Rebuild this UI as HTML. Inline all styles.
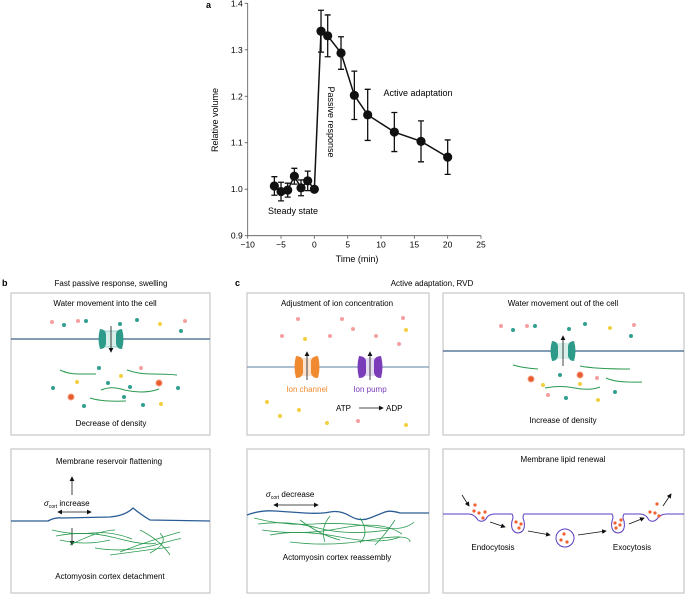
<!DOCTYPE html>
<html><head><meta charset="utf-8">
<style>
html,body{margin:0;padding:0;background:#fff;}
svg{display:block;font-family:"Liberation Sans",sans-serif;}
</style></head>
<body>
<svg id="fig" width="685" height="595" viewBox="0 0 685 595" xmlns="http://www.w3.org/2000/svg">
<!-- Panel a -->
<g id="chart">
  <text x="206" y="8" font-size="9" font-weight="bold">a</text>
  <text transform="translate(218,120) rotate(-90)" font-size="9" text-anchor="middle">Relative volume</text>
  <text x="357" y="262" font-size="9" text-anchor="middle">Time (min)</text>
  <text x="293" y="214" font-size="9" text-anchor="middle">Steady state</text>
  <text transform="translate(328,122) rotate(90)" font-size="9" text-anchor="middle">Passive response</text>
  <text x="418" y="96" font-size="9" text-anchor="middle">Active adaptation</text>
  <g id="axes"></g>
  <g id="marks"></g>
</g>

<!-- Panel titles -->
<text x="2" y="286" font-size="9" font-weight="bold">b</text>
<text x="111" y="286" font-size="8" text-anchor="middle">Fast passive response, swelling</text>
<text x="235" y="286" font-size="9" font-weight="bold">c</text>
<text x="432" y="286" font-size="8" text-anchor="middle">Active adaptation, RVD</text>

<g fill="none" stroke="#bbb" stroke-width="1">
  <rect x="11" y="293" width="199" height="142"/>
  <rect x="247" y="293" width="182" height="142"/>
  <rect x="443" y="293" width="241" height="142"/>
  <rect x="11" y="449" width="199" height="144"/>
  <rect x="247" y="449" width="182" height="144"/>
  <rect x="443" y="449" width="241" height="144"/>
</g>

<defs>
  <marker id="ah" markerWidth="6" markerHeight="6" refX="5" refY="3" orient="auto"><path d="M0,0 L6,3 L0,6z" fill="#111"/></marker>
  <marker id="ahs" markerWidth="6" markerHeight="6" refX="1" refY="3" orient="auto"><path d="M6,0 L0,3 L6,6z" fill="#111"/></marker>
</defs>

<!-- Box b top -->
<g>
  <text x="105" y="306" font-size="8" text-anchor="middle">Water movement into the cell</text>
  <line x1="11" y1="339" x2="210" y2="339" stroke="#3a5f86" stroke-width="1.2"/>
  <g>
    <rect x="103" y="331" width="16" height="16" fill="#d8efe9" stroke="#5aa" stroke-width=".5"/>
    <path d="M100,329 q5,0 6,5 v10 q-1,5 -6,5 q-3,-10 0,-20z" fill="#2e9a8a"/>
    <path d="M122,329 q-5,0 -6,5 v10 q1,5 6,5 q3,-10 0,-20z" fill="#2e9a8a"/>
    <line x1="111" y1="326" x2="111" y2="352" stroke="#111" stroke-width=".8" marker-end="url(#ah)"/>
  </g>
  <g stroke="#2a9a50" stroke-width="1" fill="none">
    <path d="M60,370 q8,4 18,4 t18,0"/><path d="M127,370 q10,4 25,4 t25,1"/><path d="M101,390 q10,-4 20,-1 t20,3 t18,-3"/><path d="M90,398 q12,4 36,3"/>
  </g>
  <g id="dots-b"></g>
  <text x="111" y="426" font-size="8" text-anchor="middle">Decrease of density</text>
</g>

<!-- Box c1 top -->
<g>
  <text x="337" y="306" font-size="8" text-anchor="middle">Adjustment of ion concentration</text>
  <line x1="247" y1="367" x2="429" y2="367" stroke="#7c9ab8" stroke-width="1.2"/>
  <g>
    <rect x="299" y="358" width="16" height="18" fill="#fbe3cf"/>
    <path d="M296,356 q6,0 7,5 v12 q-1,5 -7,5 q-3,-11 0,-22z" fill="#f08a30"/>
    <path d="M318,356 q-6,0 -7,5 v12 q1,5 7,5 q3,-11 0,-22z" fill="#f08a30"/>
    <line x1="307" y1="380" x2="307" y2="352" stroke="#111" stroke-width=".8" marker-end="url(#ah)"/>
  </g>
  <g>
    <rect x="362" y="358" width="16" height="18" fill="#e6dcf2"/>
    <path d="M359,356 q6,0 7,5 v12 q-1,5 -7,5 q-3,-11 0,-22z" fill="#7a3cb8"/>
    <path d="M381,356 q-6,0 -7,5 v12 q1,5 7,5 q3,-11 0,-22z" fill="#7a3cb8"/>
    <line x1="370" y1="380" x2="370" y2="352" stroke="#111" stroke-width=".8" marker-end="url(#ah)"/>
  </g>
  <text x="307" y="392" font-size="8" text-anchor="middle" fill="#f08a30">Ion channel</text>
  <text x="370" y="392" font-size="8" text-anchor="middle" fill="#7a3cb8">Ion pump</text>
  <text x="336" y="411" font-size="8">ATP</text>
  <line x1="359" y1="408" x2="383" y2="408" stroke="#111" stroke-width=".8" marker-end="url(#ah)"/>
  <text x="386" y="411" font-size="8">ADP</text>
  <g id="dots-c1"></g>
</g>

<!-- Box c2 top -->
<g>
  <text x="563" y="306" font-size="8" text-anchor="middle">Water movement out of the cell</text>
  <line x1="443" y1="351" x2="684" y2="351" stroke="#3a5f86" stroke-width="1.2"/>
  <g>
    <rect x="555" y="343" width="16" height="16" fill="#d8efe9"/>
    <path d="M552,341 q5,0 6,5 v10 q-1,5 -6,5 q-3,-10 0,-20z" fill="#2e9a8a"/>
    <path d="M574,341 q-5,0 -6,5 v10 q1,5 6,5 q3,-10 0,-20z" fill="#2e9a8a"/>
    <line x1="563" y1="366" x2="563" y2="336" stroke="#111" stroke-width=".8" marker-end="url(#ah)"/>
  </g>
  <g stroke="#2a9a50" stroke-width="1" fill="none">
    <path d="M513,365 q10,3 25,4"/><path d="M580,366 q15,3 50,3"/><path d="M545,388 q15,-3 30,0 t25,-1"/><path d="M606,378 q10,5 36,4"/>
  </g>
  <g id="dots-c2"></g>
  <text x="563" y="423" font-size="8" text-anchor="middle">Increase of density</text>
</g>

<!-- Box b bottom -->
<g>
  <text x="109" y="464" font-size="8" text-anchor="middle">Membrane reservoir flattening</text>
  <path d="M11,521 L48,521 Q55,517 62,518 L110,517 Q125,516 133,508 Q140,514 150,520 L210,521" fill="none" stroke="#2a5d95" stroke-width="1.3"/>
  <line x1="72" y1="495" x2="72" y2="477" stroke="#111" stroke-width=".8" marker-end="url(#ah)"/>
  <text x="44" y="506" font-size="8" font-style="italic">σ<tspan font-size="5" font-style="normal" dy="2">cort</tspan><tspan font-style="normal" dy="-2"> increase</tspan></text>
  <line x1="58" y1="512" x2="91" y2="512" stroke="#111" stroke-width=".8" marker-end="url(#ah)" marker-start="url(#ahs)"/>
  <line x1="72" y1="528" x2="72" y2="545" stroke="#111" stroke-width=".8" marker-end="url(#ah)"/>
  <g stroke="#2a9a50" stroke-width=".8" fill="none">
    <path d="M52,530 q20,5 40,3 t40,6"/><path d="M56,536 q30,-6 60,2 t40,5"/><path d="M60,540 q25,6 50,0"/><path d="M95,548 q30,5 60,-3 t25,-6"/><path d="M110,555 q30,-4 60,-8"/><path d="M140,530 q20,10 30,25"/><path d="M160,533 q10,10 -10,20"/><path d="M70,545 q30,-15 45,-15"/><path d="M120,552 q25,-10 60,-20"/>
  </g>
  <text x="110" y="579" font-size="8" text-anchor="middle">Actomyosin cortex detachment</text>
</g>

<!-- Box c1 bottom -->
<g>
  <path d="M247,515 Q260,510 275,511 T305,513 T330,512 T350,516 T370,518 T385,512 T400,513 L429,513" fill="none" stroke="#2a5d95" stroke-width="1.3"/>
  <text x="266" y="497" font-size="8" font-style="italic">σ<tspan font-size="5" font-style="normal" dy="2">cort</tspan><tspan font-style="normal" dy="-2"> decrease</tspan></text>
  <line x1="274" y1="505" x2="318" y2="505" stroke="#111" stroke-width=".8" marker-end="url(#ah)" marker-start="url(#ahs)"/>
  <g stroke="#2a9a50" stroke-width=".8" fill="none">
    <path d="M254,518 q30,8 60,6 t60,3 t40,-5"/><path d="M258,524 q30,-4 60,4 t70,2"/><path d="M262,530 q40,6 80,-2 t60,6"/><path d="M270,535 q30,-6 70,2 t60,0"/><path d="M290,542 q40,5 80,-2 t40,2"/><path d="M300,520 q20,15 40,20"/><path d="M360,518 q10,15 0,25"/><path d="M395,520 q-10,15 -20,25"/><path d="M330,516 q-10,12 -5,26"/>
  </g>
  <text x="337" y="560" font-size="8" text-anchor="middle">Actomyosin cortex reassembly</text>
</g>

<!-- Box c2 bottom -->
<g>
  <text x="563" y="462" font-size="8" text-anchor="middle">Membrane lipid renewal</text>
  <path d="M443,514 L469,514 Q474,514 478,520 Q482,523 486,519 Q488,514 495,514 L512,514 Q514,517 512,521 Q510,532 518,533 Q526,532 524,521 Q522,517 524,514 L612,514 Q614,517 612,521 Q610,532 618,533 Q626,532 624,521 Q622,517 624,514 L640,514 Q646,514 649,520 Q653,523 657,519 Q660,514 667,514 L684,514" fill="none" stroke="#5a3cc0" stroke-width="1"/>
  <circle cx="565" cy="538" r="9" fill="none" stroke="#5a3cc0" stroke-width="1"/>
  <g fill="#f06030">
    <circle cx="475" cy="505" r="1.6"/><circle cx="474" cy="511" r="1.6"/><circle cx="479" cy="513" r="1.6"/><circle cx="485" cy="512" r="1.6"/><circle cx="483" cy="518" r="1.6"/>
    <circle cx="516" cy="522" r="1.6"/><circle cx="521" cy="524" r="1.6"/><circle cx="519" cy="528" r="1.6"/>
    <circle cx="564" cy="534" r="1.6"/><circle cx="561" cy="540" r="1.6"/><circle cx="567" cy="542" r="1.6"/>
    <circle cx="615" cy="523" r="1.6"/><circle cx="620" cy="525" r="1.6"/><circle cx="616" cy="528" r="1.6"/><circle cx="621" cy="520" r="1.6"/>
    <circle cx="657" cy="504" r="1.6"/><circle cx="650" cy="512" r="1.6"/><circle cx="655" cy="513" r="1.6"/><circle cx="659" cy="516" r="1.6"/>
  </g>
  <g stroke="#111" stroke-width=".8">
    <line x1="462" y1="495" x2="469" y2="506" marker-end="url(#ah)"/>
    <line x1="490" y1="522" x2="505" y2="527" marker-end="url(#ah)"/>
    <line x1="528" y1="531" x2="550" y2="535" marker-end="url(#ah)"/>
    <line x1="578" y1="535" x2="606" y2="531" marker-end="url(#ah)"/>
    <line x1="629" y1="524" x2="644" y2="518" marker-end="url(#ah)"/>
    <line x1="663" y1="506" x2="671" y2="494" marker-end="url(#ah)"/>
  </g>
  <text x="493" y="550" font-size="8" text-anchor="middle">Endocytosis</text>
  <text x="632" y="550" font-size="8" text-anchor="middle">Exocytosis</text>
</g>
</svg>

<script>
// Chart data
const times = [-6, -5, -4, -3, -2, -1, 0, 1, 2, 4, 6, 8, 12, 16, 20];
const volumes = [1.007, 0.995, 0.998, 1.028, 1.003, 1.018, 1.0, 1.34, 1.33, 1.293, 1.202, 1.16, 1.123, 1.103, 1.069];
const errors = [0.02, 0.02, 0.015, 0.017, 0.017, 0.021, 0.0, 0.045, 0.045, 0.035, 0.052, 0.055, 0.042, 0.044, 0.037];
const xTicks = [-10, -5, 0, 5, 10, 15, 20, 25];
const xTickLabels = ["\u221210", "\u22125", "0", "5", "10", "15", "20", "25"];
const yTicks = [0.9, 1.0, 1.1, 1.2, 1.3, 1.4];
const yTickLabels = ["0.9", "1.0", "1.1", "1.2", "1.3", "1.4"];

const NS = "http://www.w3.org/2000/svg";
const X0 = 247.7, X1 = 481, Y0 = 235.7, Y1 = 3.3;
function xs(t){ return X0 + (t - (-10)) / 35 * (X1 - X0); }
function ys(v){ return Y0 - (v - 0.9) / 0.5 * (Y0 - Y1); }
function mk(tag, attrs, parent){ const e = document.createElementNS(NS, tag); for (const k in attrs) e.setAttribute(k, attrs[k]); parent.appendChild(e); return e; }

const axes = document.getElementById('axes');
const marks = document.getElementById('marks');
let ax = mk('line', {x1: X0, y1: Y1, x2: X0, y2: Y0, stroke: '#555', 'stroke-width': 0.8}, axes);


ax = mk('line', {x1: X0, y1: Y0, x2: X1, y2: Y0, stroke: '#555', 'stroke-width': 0.8}, axes);


xTicks.forEach((t, i) => {
  mk('line', {x1: xs(t), y1: Y0, x2: xs(t), y2: Y0 + 3, stroke: '#555', 'stroke-width': 0.8}, axes);
  const tx = mk('text', {x: xs(t), y: Y0 + 12, 'font-size': 8.5, 'text-anchor': 'middle'}, axes);
  tx.textContent = xTickLabels[i];
  
  
});
yTicks.forEach((v, i) => {
  mk('line', {x1: X0 - 3, y1: ys(v), x2: X0, y2: ys(v), stroke: '#555', 'stroke-width': 0.8}, axes);
  const tx = mk('text', {x: X0 - 5, y: ys(v) + 3, 'font-size': 8.5, 'text-anchor': 'end'}, axes);
  tx.textContent = yTickLabels[i];
  
  
});
const line = mk('polyline', {points: times.map((t, i) => xs(t) + ',' + ys(volumes[i])).join(' '), fill: 'none', stroke: '#111', 'stroke-width': 1.5}, marks);


times.forEach((t, i) => {
  const x = xs(t), yt = ys(volumes[i] + errors[i]), yb = ys(volumes[i] - errors[i]);
  if (errors[i] > 0) {
    const eb = mk('path', {d: `M${x},${yt}V${yb}M${x-3},${yt}H${x+3}M${x-3},${yb}H${x+3}`, stroke: '#111', 'stroke-width': 1.3, fill: 'none'}, marks);
    
    
  }
  const c = mk('circle', {cx: x, cy: ys(volumes[i]), r: 4.6, fill: '#111'}, marks);
  
  
});

// decorative ion dots
const P = '#f4a0a0', T = '#2fa090', Yl = '#f2d040', R = '#e85a30';
function dots(id, list){
  const g = document.getElementById(id);
  list.forEach(d => {
    const c = mk('circle', {cx: d[0], cy: d[1], r: d[3] || 2, fill: d[2]}, g);
    if (d[3]) c.setAttribute('stroke', '#f5a080');
    
    
  });
}
dots('dots-b', [[52,322,P],[64,325,T],[78,321,P],[86,321,T],[120,324,T],[137,320,T],[160,324,Yl],[185,321,P],[181,331,T],[99,368,T],[141,368,P],[77,382,Yl],[108,383,T],[121,376,Yl],[130,387,T],[53,388,T],[159,383,R,3],[178,388,T],[71,397,R,3],[84,406,T],[124,397,T],[143,405,T],[161,404,Yl]]);
dots('dots-c1', [[298,319,P],[342,319,P],[403,318,P],[353,329,P],[406,330,Yl],[282,336,P],[305,339,Yl],[330,336,P],[376,336,P],[399,344,P],[267,402,Yl],[280,416,Yl],[299,410,Yl],[327,423,Yl],[358,421,P],[406,425,Yl]]);
dots('dots-c2', [[501,326,P],[513,330,T],[527,326,P],[535,326,T],[569,329,T],[585,324,T],[610,328,Yl],[634,325,P],[631,336,T],[531,379,R,3],[543,385,Yl],[548,395,P],[560,375,T],[580,375,R,3],[580,384,Yl],[597,378,P],[566,398,T],[598,400,Yl],[615,392,T]]);
</script>
</body></html>
